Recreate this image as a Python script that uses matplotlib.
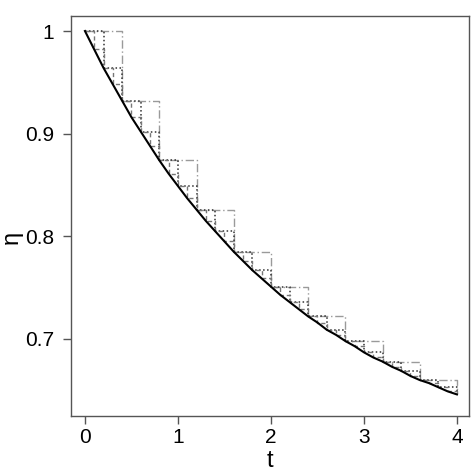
import numpy as np
import matplotlib
matplotlib.use("Agg")
import matplotlib.pyplot as plt

plt.rcParams['font.family'] = ['Liberation Sans', 'DejaVu Sans']

# eta at t = 0, 0.1, ..., 4.0
t = [0.0, 0.1, 0.2, 0.3, 0.4, 0.5, 0.6, 0.7, 0.8, 0.9,
     1.0, 1.1, 1.2, 1.3, 1.4, 1.5, 1.6, 1.7, 1.8, 1.9,
     2.0, 2.1, 2.2, 2.3, 2.4, 2.5, 2.6, 2.7, 2.8, 2.9,
     3.0, 3.1, 3.2, 3.3, 3.4, 3.5, 3.6, 3.7, 3.8, 3.9, 4.0]
eta = [1.000, 0.982, 0.964, 0.948, 0.932, 0.916, 0.902, 0.888, 0.874, 0.861,
       0.849, 0.837, 0.826, 0.815, 0.805, 0.795, 0.785, 0.776, 0.767, 0.759,
       0.751, 0.743, 0.736, 0.729, 0.722, 0.716, 0.709, 0.704, 0.698, 0.693,
       0.687, 0.682, 0.678, 0.673, 0.669, 0.664, 0.660, 0.657, 0.653, 0.649,
       0.646]

t = np.array(t)
eta = np.array(eta)

fig = plt.figure(figsize=(4.74, 4.74), dpi=100)
ax = fig.add_axes([0.1498, 0.1224, 0.8397, 0.8438])

# staircase approximations with step 0.4, 0.2 and 0.1
ax.plot(t[::4], eta[::4], drawstyle='steps-post', color='#9a9a9a',
        lw=1.0, ls=(0, (6, 2, 1, 2)))
ax.plot(t[::2], eta[::2], drawstyle='steps-post', color='#333333',
        lw=1.1, ls=(0, (1, 1.6)))
ax.plot(t, eta, drawstyle='steps-post', color='#777777',
        lw=1.0, ls=(0, (3, 2)))
ax.plot(t, eta, color='black', lw=1.5)

ax.set_xlim(-0.15, 4.13)
ax.set_ylim(0.625, 1.0146)
ax.set_xticks([0, 1, 2, 3, 4])
ax.set_yticks([0.7, 0.8, 0.9, 1.0])
ax.set_yticklabels(['0.7', '0.8', '0.9', '1'])

for s in ax.spines.values():
    s.set_color('#555555')
    s.set_linewidth(1.0)
ax.tick_params(direction='out', length=6, width=1.0, color='#555555',
               labelsize=15, labelcolor='black')
ax.tick_params(axis='y', pad=6)
ax.tick_params(axis='x', pad=3)

fig.text(0.5 * (0.1498 + 0.9895), 0.027, 't', ha='center', va='center',
         fontsize=17)
fig.text(0.025, 0.5, '\u03b7', ha='center', va='center', rotation=90,
         fontsize=17)

fig.savefig('out.png', dpi=100)
